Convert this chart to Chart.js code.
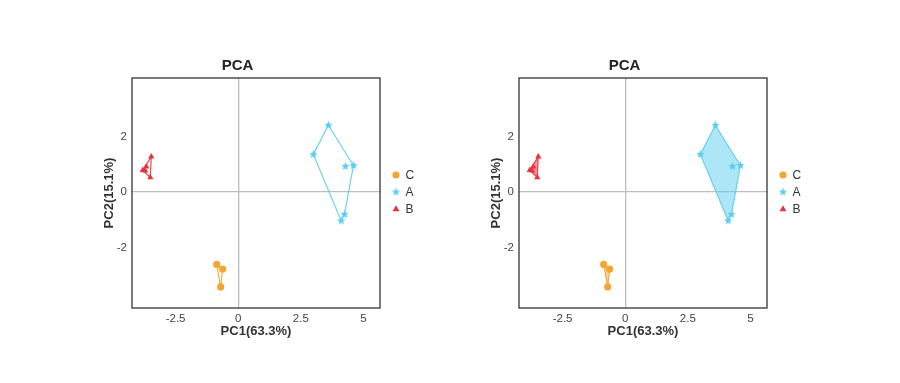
<!DOCTYPE html>
<html>
<head>
<meta charset="utf-8">
<script src="https://cdn.jsdelivr.net/npm/chart.js@4.4.1/dist/chart.umd.min.js"></script>
<style>
  html, body { margin: 0; padding: 0; background: #fff; }
  #wrap { position: relative; width: 900px; height: 383px; overflow: hidden; }
  #wrap canvas { position: absolute; top: 0; }
</style>
</head>
<body>
<div id="wrap">
  <canvas id="pcaLeft" width="450" height="383" style="left:0"></canvas>
  <canvas id="pcaRight" width="450" height="383" style="left:387px"></canvas>
</div>
<script>
// values
const groupNames = ['C', 'A', 'B'];
const groupColors = ['#F0A733', '#5CCDF0', '#E8323F'];
const cX = [-0.86, -0.62, -0.70];
const cY = [-2.61, -2.78, -3.42];
const aX = [3.60, 3.00, 4.28, 4.60, 4.24, 4.11];
const aY = [2.40, 1.35, 0.92, 0.95, -0.81, -1.04];
const bX = [-3.47, -3.67, -3.81, -3.51, -3.71];
const bY = [1.27, 0.91, 0.78, 0.52, 0.76];
const xTicks = [-2.5, 0, 2.5, 5];
const yTicks = [-2, 0, 2];
const chartTitle = 'PCA';
const xTitle = 'PC1(63.3%)';
const yTitle = 'PC2(15.1%)';

const FONT = '"Liberation Sans", Arial, sans-serif';
const groupXs = [cX, aX, bX];
const groupYs = [cY, aY, bY];

function zip(xs, ys) {
  return xs.map((x, i) => ({ x: x, y: ys[i] }));
}

// convex hull, monotone chain
function hull(points) {
  const p = points.slice().sort((a, b) => a.x - b.x || a.y - b.y);
  const cross = (o, a, b) => (a.x - o.x) * (b.y - o.y) - (a.y - o.y) * (b.x - o.x);
  const lower = [];
  p.forEach(pt => {
    while (lower.length >= 2 && cross(lower[lower.length - 2], lower[lower.length - 1], pt) <= 0) lower.pop();
    lower.push(pt);
  });
  const upper = [];
  p.slice().reverse().forEach(pt => {
    while (upper.length >= 2 && cross(upper[upper.length - 2], upper[upper.length - 1], pt) <= 0) upper.pop();
    upper.push(pt);
  });
  const h = lower.slice(0, -1).concat(upper.slice(0, -1));
  h.push(h[0]);
  return h;
}

function makeStar(color, r) {
  const c = document.createElement('canvas');
  const s = Math.ceil(r * 2) + 2;
  c.width = c.height = s;
  const g = c.getContext('2d');
  g.fillStyle = color;
  g.beginPath();
  for (let i = 0; i < 10; i++) {
    const rad = i % 2 ? r * 0.45 : r;
    const a = -Math.PI / 2 + i * Math.PI / 5;
    g.lineTo(s / 2 + rad * Math.cos(a), s / 2 + rad * Math.sin(a));
  }
  g.closePath();
  g.fill();
  return c;
}

const starImg = makeStar(groupColors[1], 4.4);
const pointStyles = ['circle', starImg, 'triangle'];

function hexA(hex, a) {
  const n = parseInt(hex.slice(1), 16);
  return `rgba(${n >> 16},${(n >> 8) & 255},${n & 255},${a})`;
}

const boxPlugin = {
  id: 'box',
  afterDraw(chart) {
    const { ctx, chartArea: a } = chart;
    ctx.save();
    ctx.strokeStyle = '#333';
    ctx.lineWidth = 1.3;
    ctx.strokeRect(a.left, a.top, a.right - a.left, a.bottom - a.top);
    ctx.restore();
  }
};

const legendPlugin = {
  id: 'sideLegend',
  afterDraw(chart) {
    const { ctx, chartArea: a } = chart;
    const cy = (a.top + a.bottom) / 2 - 1;
    ctx.save();
    groupNames.forEach((name, i) => {
      const x = a.right + 16;
      const y = cy + (i - 1) * 17;
      ctx.fillStyle = groupColors[i];
      const st = pointStyles[i];
      if (st === 'circle') {
        ctx.beginPath();
        ctx.arc(x, y, 3.6, 0, Math.PI * 2);
        ctx.fill();
      } else if (st === 'triangle') {
        ctx.beginPath();
        ctx.moveTo(x, y - 3.8);
        ctx.lineTo(x + 3.4, y + 2.2);
        ctx.lineTo(x - 3.4, y + 2.2);
        ctx.closePath();
        ctx.fill();
      } else {
        ctx.drawImage(st, x - st.width / 2, y - st.height / 2);
      }
      ctx.fillStyle = '#333';
      ctx.font = '12px ' + FONT;
      ctx.textBaseline = 'middle';
      ctx.textAlign = 'left';
      ctx.fillText(name, x + 9.5, y + 0.5);
    });
    ctx.restore();
  }
};

function makeConfig(filled) {
  const datasets = [];
  groupNames.forEach((name, i) => {
    datasets.push({
      label: name,
      data: zip(groupXs[i], groupYs[i]),
      pointStyle: pointStyles[i],
      pointRadius: 3.6,
      pointBackgroundColor: groupColors[i],
      pointBorderWidth: 0,
      showLine: false
    });
  });
  groupNames.forEach((name, i) => {
    datasets.push({
      label: name + ' hull',
      data: hull(zip(groupXs[i], groupYs[i])),
      showLine: true,
      pointRadius: 0,
      borderColor: hexA(groupColors[i], 0.9),
      borderWidth: 1.2,
      backgroundColor: hexA(groupColors[i], 0.5),
      fill: filled ? 'shape' : false,
      tension: 0
    });
  });

  const gridColor = c => (c.tick && c.tick.value === 0 ? '#BDBDBD' : 'rgba(0,0,0,0)');

  return {
    type: 'scatter',
    data: { datasets },
    options: {
      responsive: false,
      animation: false,
      events: [],
      layout: { padding: { left: 95, right: 70, top: 0, bottom: 43.7 } },
      plugins: {
        legend: { display: false },
        tooltip: { enabled: false },
        title: {
          display: true,
          text: chartTitle,
          color: '#222',
          font: { size: 15, weight: 'bold', family: FONT, lineHeight: 1.2 },
          padding: { top: 57, bottom: 3 }
        }
      },
      scales: {
        x: {
          type: 'linear',
          min: -4.24,
          max: 5.66,
          afterBuildTicks: s => { s.ticks = xTicks.map(v => ({ value: v })); },
          afterFit: s => { s.height = 31.3; s.paddingLeft = 0; s.paddingRight = 0; },
          grid: { drawTicks: false, color: gridColor, lineWidth: 1.3 },
          border: { display: false },
          ticks: { padding: 4, color: '#444', font: { size: 11.5, family: FONT }, callback: v => String(v) },
          title: {
            display: true, text: xTitle, color: '#333',
            font: { size: 13, weight: 'bold', family: FONT, lineHeight: 1.2 },
            padding: { top: 0, bottom: 0 }
          }
        },
        y: {
          type: 'linear',
          min: -4.18,
          max: 4.1,
          afterBuildTicks: s => { s.ticks = yTicks.map(v => ({ value: v })); },
          afterFit: s => { s.width = 37; s.paddingTop = 0; s.paddingBottom = 0; },
          grid: { drawTicks: false, color: gridColor, lineWidth: 1.3 },
          border: { display: false },
          ticks: { padding: 5, color: '#444', font: { size: 11.5, family: FONT }, callback: v => String(v) },
          title: {
            display: true, text: yTitle, color: '#333',
            font: { size: 13, weight: 'bold', family: FONT, lineHeight: 1.2 },
            padding: { top: 7, bottom: 0 }
          }
        }
      }
    },
    plugins: [boxPlugin, legendPlugin]
  };
}

new Chart(document.getElementById('pcaLeft'), makeConfig(false));
new Chart(document.getElementById('pcaRight'), makeConfig(true));
</script>
</body>
</html>
